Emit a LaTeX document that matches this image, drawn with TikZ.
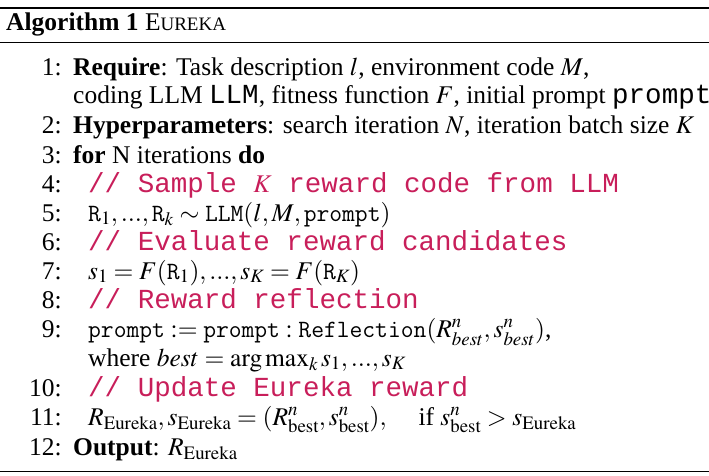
\documentclass[tikz,border=0pt]{standalone}
\usepackage{mathptmx}
\usepackage{fontspec}
\setmainfont{Liberation Serif}
\setmonofont{Liberation Mono}[Scale=1.08]
\definecolor{cmt}{RGB}{200,30,90}
\newcommand{\cm}[1]{\textcolor{cmt}{\texttt{#1}}}
\begin{document}
\begin{tikzpicture}[x=1pt,y=-1pt,
  ln/.style={anchor=base east,inner sep=0pt,font=\fontsize{25.5}{28}\selectfont},
  tx/.style={anchor=base west,inner sep=0pt,font=\fontsize{25.5}{28}\selectfont}]
\useasboundingbox (0,0) rectangle (709,476);
\draw[line width=1.6pt] (0,8) -- (709,8);
\draw[line width=0.8pt] (0,42) -- (709,42);
\draw[line width=0.8pt] (0,471) -- (709,471);
\node[tx] (t) at (6,31) {\textbf{Algorithm 1} E{\fontsize{19}{20}\selectfont UREKA}};
\def\a{73}\def\b{88}
\node[ln] (n1) at (62,76) {1:};
\node[tx] (l1) at (\a,76) {\textbf{Require}: Task description $l$, environment code $M$,};
\node[tx] (l1b) at (\a,104) {coding LLM \texttt{LLM}, fitness function $F$, initial prompt \texttt{prompt}};
\node[ln] (n2) at (62,134) {2:};
\node[tx] (l2) at (\a,134) {\textbf{Hyperparameters}: search iteration $N$, iteration batch size $K$};
\node[ln] (n3) at (62,163) {3:};
\node[tx] (l3) at (\a,163) {\textbf{for} N iterations \textbf{do}};
\node[ln] (n4) at (62,192) {4:};
\node[tx] (l4) at (\b,192) {\cm{// Sample $K$ reward code from LLM}};
\node[ln] (n5) at (62,221) {5:};
\node[tx] (l5) at (\b,221) {$\mathtt{R}_1,...,\mathtt{R}_k\sim\mathtt{LLM}(l,M,\mathtt{prompt})$};
\node[ln] (n6) at (62,250) {6:};
\node[tx] (l6) at (\b,250) {\cm{// Evaluate reward candidates}};
\node[ln] (n7) at (62,279) {7:};
\node[tx] (l7) at (\b,279) {$s_1=F(\mathtt{R}_1),...,s_K=F(\mathtt{R}_K)$};
\node[ln] (n8) at (62,308) {8:};
\node[tx] (l8) at (\b,308) {\cm{// Reward reflection}};
\node[ln] (n9) at (62,337) {9:};
\node[tx] (l9) at (\b,337) {$\mathtt{prompt}:=\mathtt{prompt}:\mathtt{Reflection}(R^n_{best},s^n_{best})$,};
\node[tx] (l9b) at (\b,366) {where $best=\arg\max_k s_1,...,s_K$};
\node[ln] (n10) at (62,396) {10:};
\node[tx] (l10) at (\b,396) {\cm{// Update Eureka reward}};
\node[ln] (n11) at (62,425) {11:};
\node[tx] (l11) at (\b,425) {$R_{\mathrm{Eureka}},s_{\mathrm{Eureka}}=(R^n_{\mathrm{best}},s^n_{\mathrm{best}}),\quad$ if $s^n_{\mathrm{best}}>s_{\mathrm{Eureka}}$};
\node[ln] (n12) at (62,455) {12:};
\node[tx] (l12) at (\a,455) {\textbf{Output}: $R_{\mathrm{Eureka}}$};
\end{tikzpicture}
\end{document}
